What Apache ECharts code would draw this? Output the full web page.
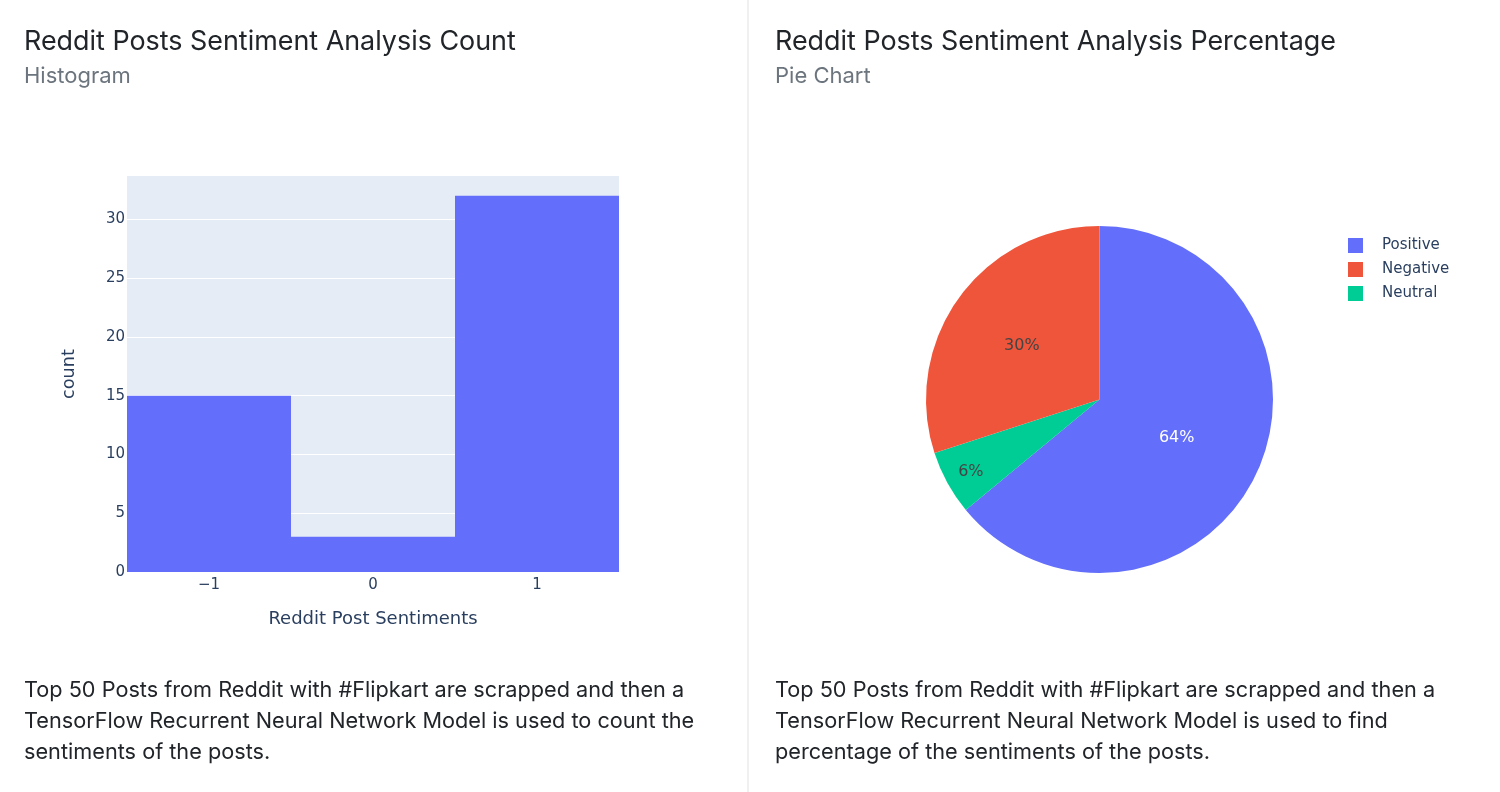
<!DOCTYPE html>
<html>
<head>
<meta charset="utf-8">
<style>html,body{margin:0;padding:0;background:#fff}#c{width:1500px;height:792px}</style>
<script src="https://cdn.jsdelivr.net/npm/echarts@6/dist/echarts.min.js"></script>
</head>
<body>
<div id="c"></div>
<script>
const histCategories = ['\u22121', '0', '1'];
const histCounts = [15, 3, 32];
const pieNames = ['Positive', 'Neutral', 'Negative'];
const pieValues = [64, 6, 30];
const legendOrder = ['Positive', 'Negative', 'Neutral'];
const titleFont = 'Inter';
const plotFont = 'DejaVu Sans';
const axisColor = '#2a3f5f';
const labelOffsets = [[-4, 0], [-50, 29], [-5, -1]];
const labelColors = ['#ffffff', '#444444', '#444444'];
const sliceColors = ['#636efa', '#00cc96', '#ef553b'];

const heading = (text, left, top, size, color) => ({
  text, left, top, textStyle: {fontFamily: titleFont, fontSize: size, fontWeight: 400, color}
});
const para = (text, x) => ({
  type: 'text', x, y: 675,
  style: {text, fontFamily: titleFont, fontSize: 21.7, lineHeight: 31, fill: '#212529'}
});

const chart = echarts.init(document.getElementById('c'), null, {renderer: 'canvas'});
chart.setOption({
  animation: false,
  backgroundColor: '#fff',
  title: [
    heading('Reddit Posts Sentiment Analysis Count', 19, 23, 26.9, '#212529'),
    heading('Histogram', 19, 60, 22, '#6c757d'),
    heading('Reddit Posts Sentiment Analysis Percentage', 770, 23, 26.9, '#212529'),
    heading('Pie Chart', 770, 60, 22, '#6c757d')
  ],
  graphic: [
    {type: 'rect', shape: {x: 747.5, y: 0, width: 1, height: 792}, style: {fill: '#dee2e6'}},
    para('Top 50 Posts from Reddit with #Flipkart are scrapped and then a\nTensorFlow Recurrent Neural Network Model is used to count the\nsentiments of the posts.', 24),
    para('Top 50 Posts from Reddit with #Flipkart are scrapped and then a\nTensorFlow Recurrent Neural Network Model is used to find\npercentage of the sentiments of the posts.', 775)
  ],
  grid: {left: 127, top: 176, width: 492, height: 396, show: true, backgroundColor: '#e5ecf6', borderWidth: 0},
  xAxis: {
    type: 'category', data: histCategories,
    name: 'Reddit Post Sentiments', nameLocation: 'middle', nameGap: 38,
    nameTextStyle: {fontFamily: plotFont, fontSize: 18, color: axisColor},
    axisLine: {show: false}, axisTick: {show: false},
    axisLabel: {fontFamily: plotFont, fontSize: 15, color: axisColor, margin: 6}
  },
  yAxis: {
    type: 'value', min: 0, max: 33.68, interval: 5,
    name: 'count', nameLocation: 'middle', nameGap: 49,
    nameTextStyle: {fontFamily: plotFont, fontSize: 17.7, color: axisColor},
    axisLine: {show: false}, axisTick: {show: false},
    axisLabel: {fontFamily: plotFont, fontSize: 15, color: axisColor, margin: 2, showMaxLabel: false},
    splitLine: {showMaxLine: false, lineStyle: {color: '#ffffff', width: 1}}
  },
  legend: {
    left: 1343, top: 233, orient: 'vertical', icon: 'rect',
    itemWidth: 15, itemHeight: 15, itemGap: 9, data: legendOrder,
    textStyle: {fontFamily: plotFont, fontSize: 15, color: axisColor, padding: [2, 0, 0, 14]}
  },
  series: [
    {type: 'bar', data: histCounts, barWidth: '100%', itemStyle: {color: '#636efa'}, silent: true},
    {
      type: 'pie', center: [1099.5, 399.5], radius: [0, 173.5], startAngle: 90, clockwise: true, sort: null,
      data: pieNames.map((name, i) => ({
        name, value: pieValues[i],
        itemStyle: {color: sliceColors[i]},
        label: {color: labelColors[i]}
      })),
      label: {show: true, position: 'inside', formatter: p => p.value + '%', fontFamily: plotFont, fontSize: 16},
      labelLine: {show: false},
      labelLayout: p => ({dx: labelOffsets[p.dataIndex][0], dy: labelOffsets[p.dataIndex][1]}),
      silent: true
    }
  ]
});
</script>
</body>
</html>
